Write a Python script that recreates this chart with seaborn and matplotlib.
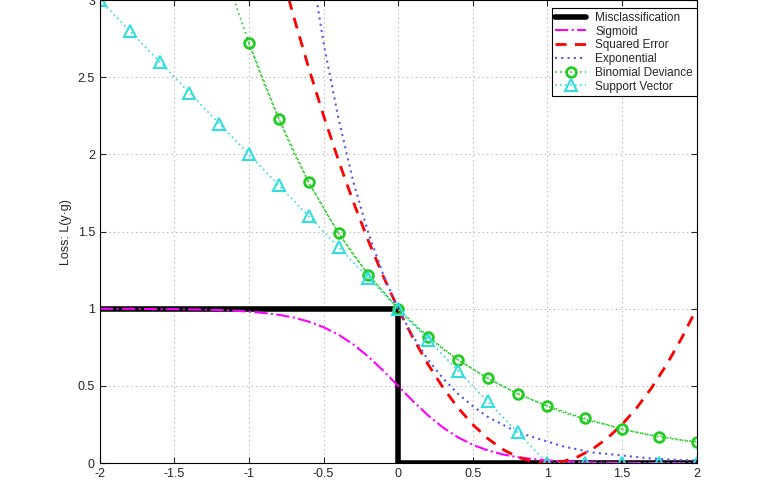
import numpy as np
import pandas as pd
import matplotlib
matplotlib.use("Agg")
import matplotlib.pyplot as plt
import seaborn as sns

# curve samples on x = -2..2 step 0.1 (values read/estimated from the chart)
x_curve = [round(-2 + 0.1 * i, 1) for i in range(41)]
sigmoid = [1.0, 1.0, 1.0, 0.999, 0.998, 0.998, 0.996, 0.995, 0.992, 0.988, 0.982, 0.973, 0.961, 0.943,
           0.917, 0.881, 0.832, 0.769, 0.690, 0.599, 0.5, 0.401, 0.310, 0.231, 0.168, 0.119, 0.083,
           0.057, 0.039, 0.027, 0.018, 0.012, 0.008, 0.005, 0.004, 0.0025, 0.002, 0.001, 0.001, 0.0005, 0.0003]
squared = [9, 8.41, 7.84, 7.29, 6.76, 6.25, 5.76, 5.29, 4.84, 4.41, 4, 3.61, 3.24, 2.89, 2.56, 2.25, 1.96,
           1.69, 1.44, 1.21, 1, 0.81, 0.64, 0.49, 0.36, 0.25, 0.16, 0.09, 0.04, 0.01, 0, 0.01, 0.04, 0.09,
           0.16, 0.25, 0.36, 0.49, 0.64, 0.81, 1]
exponential = [54.6, 44.7, 36.6, 30.0, 24.5, 20.1, 16.4, 13.5, 11.0, 9.03, 7.39, 6.05, 4.95, 4.06, 3.32,
               2.72, 2.23, 1.82, 1.49, 1.22, 1, 0.82, 0.67, 0.55, 0.45, 0.37, 0.30, 0.25, 0.20, 0.17, 0.14,
               0.11, 0.09, 0.07, 0.06, 0.05, 0.04, 0.03, 0.025, 0.02, 0.018]
binomial = [7.39, 6.69, 6.05, 5.47, 4.95, 4.48, 4.06, 3.67, 3.32, 3.00, 2.72, 2.46, 2.23, 2.01, 1.82, 1.65,
            1.49, 1.35, 1.22, 1.11, 1, 0.90, 0.82, 0.74, 0.67, 0.61, 0.55, 0.50, 0.45, 0.41, 0.37, 0.33,
            0.30, 0.27, 0.25, 0.22, 0.20, 0.18, 0.17, 0.15, 0.14]
binom_mx = [-1, -0.8, -0.6, -0.4, -0.2, 0, 0.2, 0.4, 0.6, 0.8, 1, 1.25, 1.5, 1.75, 2]
binom_my = [2.72, 2.23, 1.82, 1.49, 1.22, 1, 0.82, 0.67, 0.55, 0.45, 0.37, 0.29, 0.22, 0.17, 0.135]
svm_x = [-2, -1.8, -1.6, -1.4, -1.2, -1, -0.8, -0.6, -0.4, -0.2, 0, 0.2, 0.4, 0.6, 0.8, 1, 1.25, 1.5, 1.75, 2]
svm_y = [3, 2.8, 2.6, 2.4, 2.2, 2, 1.8, 1.6, 1.4, 1.2, 1, 0.8, 0.6, 0.4, 0.2, 0, 0, 0, 0, 0]
mis_x = [-2, 0, 0, 2]
mis_y = [1, 1, 0, 0]
xticks = [-2, -1.5, -1, -0.5, 0, 0.5, 1, 1.5, 2]
xtick_labels = ["-2", "-1.5", "-1", "-0.5", "0", "0.5", "1", "1.5", "2"]
yticks = [0, 0.5, 1, 1.5, 2, 2.5, 3]
ytick_labels = ["0", "0.5", "1", "1.5", "2", "2.5", "3"]

sns.set_style("white")
plt.rcParams['font.family'] = ['Liberation Sans', 'DejaVu Sans']
fig = plt.figure(figsize=(7.68, 4.8), dpi=100)
ax = fig.add_axes([0.13, 0.035, 0.777, 0.965])

sns.lineplot(x=mis_x, y=mis_y, sort=False, estimator=None, color="black", lw=4, ax=ax,
             label="Misclassification")
sns.lineplot(x=x_curve, y=sigmoid, color="magenta", lw=1.5, ls="-.", ax=ax, label="Sigmoid")
sns.lineplot(x=x_curve, y=squared, color="red", lw=2, ls=(0, (4, 3)), ax=ax, label="Squared Error")
sns.lineplot(x=x_curve, y=exponential, color="#5555ee", lw=1.5, ls=(0, (1, 2)), ax=ax, label="Exponential")
sns.lineplot(x=x_curve, y=binomial, color="#22cc22", lw=1.2, ls=(0, (1, 2)), ax=ax)
sns.lineplot(x=binom_mx, y=binom_my, color="#22cc22", lw=1.2, ls=(0, (1, 2)), marker="o",
             markersize=7, markerfacecolor="none", markeredgecolor="#22cc22", markeredgewidth=2,
             ax=ax, label="Binomial Deviance")
sns.lineplot(x=svm_x, y=svm_y, color="#33dddd", lw=1.2, ls=(0, (1, 2)), marker="^",
             markersize=8, markerfacecolor="none", markeredgecolor="#33dddd", markeredgewidth=1.5,
             ax=ax, label="Support Vector")

ax.set_xlim(-2, 2)
ax.set_ylim(0, 3)
ax.set_xticks(xticks)
ax.set_xticklabels(xtick_labels, fontsize=9)
ax.set_yticks(yticks)
ax.set_yticklabels(ytick_labels, fontsize=9)
ax.grid(True, color="#aaaaaa", ls=(0, (1, 3)), lw=0.8)
ax.tick_params(direction="in", length=4, left=True, bottom=True, top=True, right=True)
for s in ax.spines.values():
    s.set_color("black")
    s.set_linewidth(0.8)
ax.set_ylabel("Loss: L(y·g)", fontsize=9)
ax.set_xlabel("")
leg = ax.legend(loc="upper right", bbox_to_anchor=(1.01, 0.995), fontsize=8.5, fancybox=False,
                framealpha=1, edgecolor="black", borderpad=0.3, labelspacing=0.15, handlelength=2.6)
leg.get_frame().set_linewidth(0.8)
fig.savefig("out.png", dpi=100)
